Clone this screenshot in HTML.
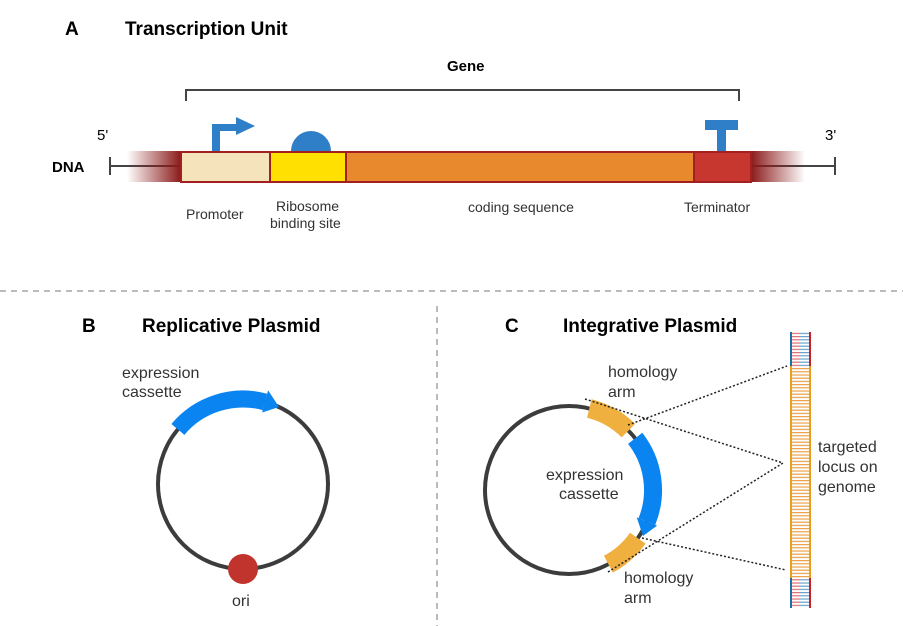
<!DOCTYPE html>
<html><head><meta charset="utf-8"><style>
body{margin:0;background:#fff}
svg{display:block;font-family:"Liberation Sans",Arial,sans-serif}
</style></head><body>
<svg width="903" height="626" viewBox="0 0 903 626" xmlns="http://www.w3.org/2000/svg">
<defs>
<linearGradient id="gl" x1="0" x2="1"><stop offset="0" stop-color="#8b1a1a" stop-opacity="0"/><stop offset="1" stop-color="#8b1a1a"/></linearGradient>
<linearGradient id="gr" x1="0" x2="1"><stop offset="0" stop-color="#8b1a1a"/><stop offset="1" stop-color="#8b1a1a" stop-opacity="0"/></linearGradient>
<pattern id="rungs" width="20" height="3.2" patternUnits="userSpaceOnUse"><rect x="0" y="0" width="20" height="1.2" fill="#e9a04a"/></pattern>
<pattern id="rungs2" width="20" height="3.2" patternUnits="userSpaceOnUse"><rect x="0" y="0" width="10" height="1.2" fill="#6aa0c8"/><rect x="10" y="0" width="10" height="1.2" fill="#e07070"/></pattern>
</defs>
<text x="65" y="35" font-size="19" font-weight="bold">A</text>
<text x="125" y="35" font-size="19" font-weight="bold">Transcription Unit</text>
<text x="447" y="71" font-size="15" font-weight="bold">Gene</text>
<path d="M186 101 V90 H739 V101" fill="none" stroke="#444" stroke-width="2"/>
<text x="97" y="140" font-size="15">5'</text>
<text x="825" y="140" font-size="15">3'</text>
<text x="52" y="172" font-size="15" font-weight="bold">DNA</text>
<line x1="110" y1="166" x2="180" y2="166" stroke="#444" stroke-width="2"/>
<line x1="110" y1="157" x2="110" y2="175" stroke="#444" stroke-width="2"/>
<line x1="751" y1="166" x2="835" y2="166" stroke="#444" stroke-width="2"/>
<line x1="835" y1="157" x2="835" y2="175" stroke="#444" stroke-width="2"/>
<rect x="127" y="151" width="54" height="31" fill="url(#gl)"/>
<rect x="751" y="151" width="54" height="31" fill="url(#gr)"/>
<rect x="181" y="152" width="89" height="30" fill="#f5e3bc" stroke="#a32020" stroke-width="2"/>
<rect x="270" y="152" width="76" height="30" fill="#ffe000" stroke="#a32020" stroke-width="2"/>
<rect x="346" y="152" width="348" height="30" fill="#e8892e" stroke="#a32020" stroke-width="2"/>
<rect x="694" y="152" width="57" height="30" fill="#c8372f" stroke="#a32020" stroke-width="2"/>
<path d="M212 151 V124 H236 V117 L255 126 L236 135 V131 H220 V151 Z" fill="#2f7fc8"/>
<path d="M291 151 A16 16 0 0 1 331 151 Z" fill="#2f7fc8"/>
<path d="M705 120 H738 V130 H726 V151 H717 V130 H705 Z" fill="#2f7fc8"/>
<text x="186" y="219" font-size="14" fill="#333">Promoter</text>
<text x="276" y="211" font-size="14" fill="#333">Ribosome</text>
<text x="270" y="228" font-size="14" fill="#333">binding site</text>
<text x="468" y="212" font-size="14" fill="#333">coding sequence</text>
<text x="684" y="212" font-size="14" fill="#333">Terminator</text>
<line x1="0" y1="291" x2="903" y2="291" stroke="#bbb" stroke-width="2" stroke-dasharray="6,5"/>
<line x1="437" y1="306" x2="437" y2="626" stroke="#bbb" stroke-width="2" stroke-dasharray="6,5"/>
<!-- B -->
<text x="82" y="332" font-size="19" font-weight="bold">B</text>
<text x="142" y="332" font-size="19" font-weight="bold">Replicative Plasmid</text>
<text x="122" y="378" font-size="16" fill="#333">expression</text>
<text x="122" y="397" font-size="16" fill="#333">cassette</text>
<circle cx="243" cy="484" r="85" fill="none" stroke="#3c3c3c" stroke-width="4"/>
<path d="M177.9 429.4 A85 85 0 0 1 265 401.9" fill="none" stroke="#0a84f0" stroke-width="17"/>
<path d="M262.1 412.5 L268.1 390.3 L279 407 Z" fill="#0a84f0"/>
<circle cx="243" cy="569" r="15" fill="#c0342d"/>
<text x="232" y="606" font-size="16" fill="#333">ori</text>
<!-- C -->
<text x="505" y="332" font-size="19" font-weight="bold">C</text>
<text x="563" y="332" font-size="19" font-weight="bold">Integrative Plasmid</text>
<circle cx="569" cy="490" r="84" fill="none" stroke="#3c3c3c" stroke-width="4"/>
<path d="M635.2 438.3 A84 84 0 0 1 646.9 521.5" fill="none" stroke="#0a84f0" stroke-width="18"/>
<path d="M636.7 517.4 L657.1 525.6 L643 536 Z" fill="#0a84f0"/>
<path d="M589.3 408.5 A84 84 0 0 1 628.4 430.6" fill="none" stroke="#efb040" stroke-width="19"/>
<path d="M637.8 538.2 A84 84 0 0 1 608.4 564.2" fill="none" stroke="#efb040" stroke-width="19"/>
<g stroke="#222" stroke-width="1.5" stroke-dasharray="2,2" fill="none">
<line x1="585" y1="399" x2="783" y2="463"/>
<line x1="628" y1="425" x2="787" y2="366"/>
<line x1="642" y1="538" x2="786" y2="570"/>
<line x1="608" y1="572" x2="783" y2="463"/>
</g>
<text x="608" y="377" font-size="16" fill="#333">homology</text>
<text x="608" y="397" font-size="16" fill="#333">arm</text>
<text x="546" y="480" font-size="16" fill="#333">expression</text>
<text x="559" y="499" font-size="16" fill="#333">cassette</text>
<text x="624" y="583" font-size="16" fill="#333">homology</text>
<text x="624" y="603" font-size="16" fill="#333">arm</text>
<text x="818" y="452" font-size="16" fill="#333">targeted</text>
<text x="818" y="472" font-size="16" fill="#333">locus on</text>
<text x="818" y="492" font-size="16" fill="#333">genome</text>
<rect x="791" y="332" width="19" height="34" fill="url(#rungs2)"/>
<rect x="791" y="366" width="19" height="212" fill="url(#rungs)"/>
<rect x="791" y="578" width="19" height="30" fill="url(#rungs2)"/>
<line x1="791" y1="332" x2="791" y2="366" stroke="#1f6fa8" stroke-width="2"/>
<line x1="810" y1="332" x2="810" y2="366" stroke="#c8202a" stroke-width="2"/>
<line x1="791" y1="366" x2="791" y2="578" stroke="#e8a020" stroke-width="2"/>
<line x1="810" y1="366" x2="810" y2="578" stroke="#e8a020" stroke-width="2"/>
<line x1="791" y1="578" x2="791" y2="608" stroke="#1f6fa8" stroke-width="2"/>
<line x1="810" y1="578" x2="810" y2="608" stroke="#c8202a" stroke-width="2"/>
</svg>
</body></html>
